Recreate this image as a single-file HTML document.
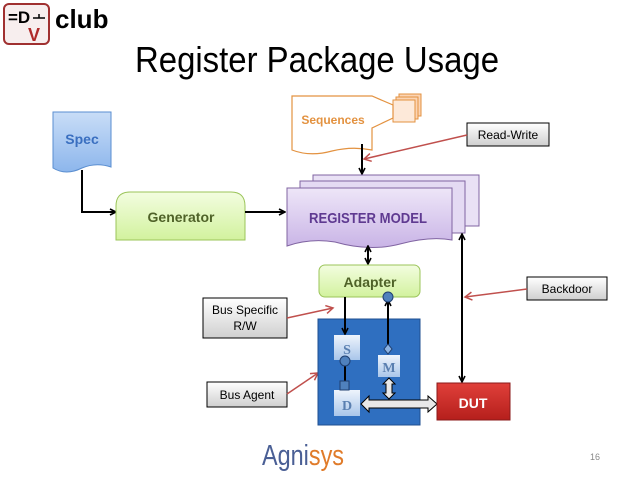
<!DOCTYPE html>
<html><head><meta charset="utf-8"><style>
html,body{margin:0;padding:0;background:#fff;}
svg{display:block;font-family:"Liberation Sans",sans-serif;}
</style></head><body>
<svg width="638" height="479" viewBox="0 0 638 479" xmlns="http://www.w3.org/2000/svg">
<defs>
<marker id="ah" markerWidth="8" markerHeight="8" refX="7" refY="4" orient="auto-start-reverse" markerUnits="userSpaceOnUse"><path d="M1,1 L7,4 L1,7" fill="none" stroke="#000" stroke-width="1.6"/></marker>
<marker id="rh" markerWidth="10" markerHeight="10" refX="8" refY="5" orient="auto" markerUnits="userSpaceOnUse"><path d="M1,1 L8,5 L1,9" fill="none" stroke="#c0504d" stroke-width="1.5"/></marker>
<linearGradient id="gb" x1="0" y1="0" x2="0" y2="1"><stop offset="0" stop-color="#fff"/><stop offset="1" stop-color="#cfcfcf"/></linearGradient>
<linearGradient id="gg" x1="0" y1="0" x2="0" y2="1"><stop offset="0" stop-color="#f3fde0"/><stop offset="1" stop-color="#d2f29e"/></linearGradient>
<linearGradient id="gs" x1="0" y1="0" x2="0" y2="1"><stop offset="0" stop-color="#c9ddf7"/><stop offset="1" stop-color="#8db6ec"/></linearGradient>
<linearGradient id="gp" x1="0" y1="0" x2="0" y2="1"><stop offset="0" stop-color="#eee6f8"/><stop offset="1" stop-color="#c9b4e6"/></linearGradient>
<linearGradient id="gd" x1="0" y1="0" x2="0" y2="1"><stop offset="0" stop-color="#e0403a"/><stop offset="1" stop-color="#b51f1c"/></linearGradient>
<linearGradient id="gt" x1="0" y1="0" x2="0" y2="1"><stop offset="0" stop-color="#eef4fc"/><stop offset="1" stop-color="#a9c6ea"/></linearGradient>
</defs>
<!-- logo -->
<rect x="4" y="4" width="45" height="40" rx="5" fill="#f7eeee" stroke="#a03030" stroke-width="2"/>
<text x="8" y="23" font-size="17" font-weight="bold" fill="#000">=D</text>
<text x="28" y="41" font-size="18" font-weight="bold" fill="#b02a2a">V</text>
<path d="M33,18 h12 M39,14 v4" stroke="#000" stroke-width="1.5"/>
<text x="55" y="28" font-size="26" font-weight="bold" fill="#000">club</text>
<!-- title -->
<text x="135" y="72" font-size="36" fill="#000" textLength="364" lengthAdjust="spacingAndGlyphs">Register Package Usage</text>
<!-- spec -->
<path d="M53,112 H111 V167 Q96,162 82,168 Q66,176 53,168 Z" fill="url(#gs)" stroke="#5a8ed0" stroke-width="1"/>
<text x="82" y="144" font-size="14" font-weight="bold" fill="#3a6fc0" text-anchor="middle">Spec</text>
<path d="M82,170 V212 H116" fill="none" stroke="#000" stroke-width="2" marker-end="url(#ah)"/>
<!-- generator -->
<path d="M116,240 V206 Q116,192 130,192 H231 Q245,192 245,206 V240 Z" fill="url(#gg)" stroke="#9bc45a" stroke-width="1"/>
<text x="181" y="222" font-size="14" fill="#4f6228" text-anchor="middle" font-weight="bold">Generator</text>
<path d="M245,212 H285" stroke="#000" stroke-width="2" marker-end="url(#ah)"/>
<!-- sequences -->
<rect x="399" y="94" width="22" height="22" fill="#fbd4b4" stroke="#e39240"/>
<rect x="396" y="97" width="22" height="22" fill="#fbd4b4" stroke="#e39240"/>
<rect x="393" y="100" width="22" height="22" fill="#fde9d9" stroke="#e39240"/>
<path d="M292,96 H372 L393,105 V118 L372,128 V150 Q352,146 332,151 Q310,157 292,150 Z" fill="#fff" stroke="#e39240" stroke-width="1.2"/>
<text x="333" y="124" font-size="12" font-weight="bold" fill="#e39240" text-anchor="middle">Sequences</text>
<path d="M362,144 V174" stroke="#000" stroke-width="2" marker-end="url(#ah)"/>
<!-- register model -->
<rect x="313" y="175" width="166" height="51" fill="#e9e1f5" stroke="#8064a2"/>
<rect x="300" y="181" width="165" height="52" fill="#e4daf3" stroke="#8064a2"/>
<path d="M287,188 H452 V240 Q430,236 400,244 Q370,252 335,242 Q310,238 287,246 Z" fill="url(#gp)" stroke="#8064a2"/>
<text x="368" y="223" font-size="15" font-weight="bold" fill="#5f3a91" text-anchor="middle" textLength="118" lengthAdjust="spacingAndGlyphs">REGISTER MODEL</text>
<path d="M368,246 V264" stroke="#000" stroke-width="2" marker-end="url(#ah)" marker-start="url(#ah)"/>
<!-- read-write -->
<rect x="467" y="123" width="82" height="23" fill="url(#gb)" stroke="#000"/>
<text x="508" y="139" font-size="12" text-anchor="middle">Read-Write</text>
<path d="M467,135 L364,159" stroke="#c0504d" stroke-width="1.5" marker-end="url(#rh)"/>
<!-- adapter -->
<rect x="319" y="265" width="101" height="32" rx="6" fill="url(#gg)" stroke="#9bc45a"/>
<text x="370" y="287" font-size="14" font-weight="bold" fill="#4f6228" text-anchor="middle">Adapter</text>
<!-- backdoor -->
<path d="M462,234 V382" stroke="#000" stroke-width="2" marker-end="url(#ah)" marker-start="url(#ah)"/>
<rect x="527" y="277" width="80" height="23" fill="url(#gb)" stroke="#000"/>
<text x="567" y="293" font-size="12" text-anchor="middle">Backdoor</text>
<path d="M527,289 L465,297" stroke="#c0504d" stroke-width="1.5" marker-end="url(#rh)"/>
<!-- bus specific -->
<rect x="203" y="298" width="84" height="40" fill="url(#gb)" stroke="#000"/>
<text x="245" y="314" font-size="12" text-anchor="middle">Bus  Specific</text>
<text x="245" y="330" font-size="12" text-anchor="middle">R/W</text>
<path d="M287,318 L333,308" stroke="#c0504d" stroke-width="1.5" marker-end="url(#rh)"/>
<rect x="207" y="382" width="80" height="25" fill="url(#gb)" stroke="#000"/>
<text x="247" y="399" font-size="12" text-anchor="middle">Bus Agent</text>
<path d="M287,394 L318,373" stroke="#c0504d" stroke-width="1.5" marker-end="url(#rh)"/>
<!-- bus agent block -->
<rect x="318" y="319" width="102" height="106" fill="#2f6fc0" stroke="#1f4f90"/>
<rect x="334" y="335" width="26" height="25" fill="url(#gt)"/>
<text x="347" y="354" font-size="14" font-weight="bold" fill="#5a7fb0" text-anchor="middle" font-family="Liberation Serif,serif">S</text>
<rect x="334" y="390" width="26" height="26" fill="url(#gt)"/>
<text x="347" y="410" font-size="14" font-weight="bold" fill="#5a7fb0" text-anchor="middle" font-family="Liberation Serif,serif">D</text>
<rect x="378" y="355" width="22" height="22" fill="url(#gt)"/>
<text x="389" y="372" font-size="14" font-weight="bold" fill="#5a7fb0" text-anchor="middle" font-family="Liberation Serif,serif">M</text>
<path d="M345,297 V334" stroke="#000" stroke-width="2" marker-end="url(#ah)"/>
<path d="M345,362 V384" stroke="#000" stroke-width="2"/>
<circle cx="345" cy="361" r="5" fill="#4f81bd" stroke="#1f3f70"/>
<rect x="340" y="381" width="9" height="9" fill="#4f81bd" stroke="#1f3f70"/>
<path d="M388,346 V300" stroke="#000" stroke-width="2" marker-end="url(#ah)"/>
<circle cx="388" cy="297" r="5" fill="#4f81bd" stroke="#1f3f70"/>
<path d="M388,344 L392,349 L388,354 L384,349 Z" fill="#8db3e2" stroke="#1f3f70"/>
<!-- white double arrows -->
<path d="M361,404 L369,396 V400 H428 V396 L437,404 L428,412 V408 H369 V412 Z" fill="#e8e8e8" stroke="#000" stroke-width="1"/>
<path d="M389,378 L395,384 H392 V393 H395 L389,399 L383,393 H386 V384 H383 Z" fill="#e8e8e8" stroke="#000" stroke-width="1"/>
<!-- DUT -->
<rect x="437" y="383" width="73" height="37" fill="url(#gd)" stroke="#8b1a1a"/>
<text x="473" y="408" font-size="14" font-weight="bold" fill="#fff" text-anchor="middle">DUT</text>
<!-- footer -->
<text x="262" y="465" font-size="29" fill="#4a5f95" textLength="82" lengthAdjust="spacingAndGlyphs">Agni<tspan fill="#e07b2a">sys</tspan></text>
<text x="595" y="460" font-size="9" fill="#888" text-anchor="middle">16</text>
</svg>
</body></html>
